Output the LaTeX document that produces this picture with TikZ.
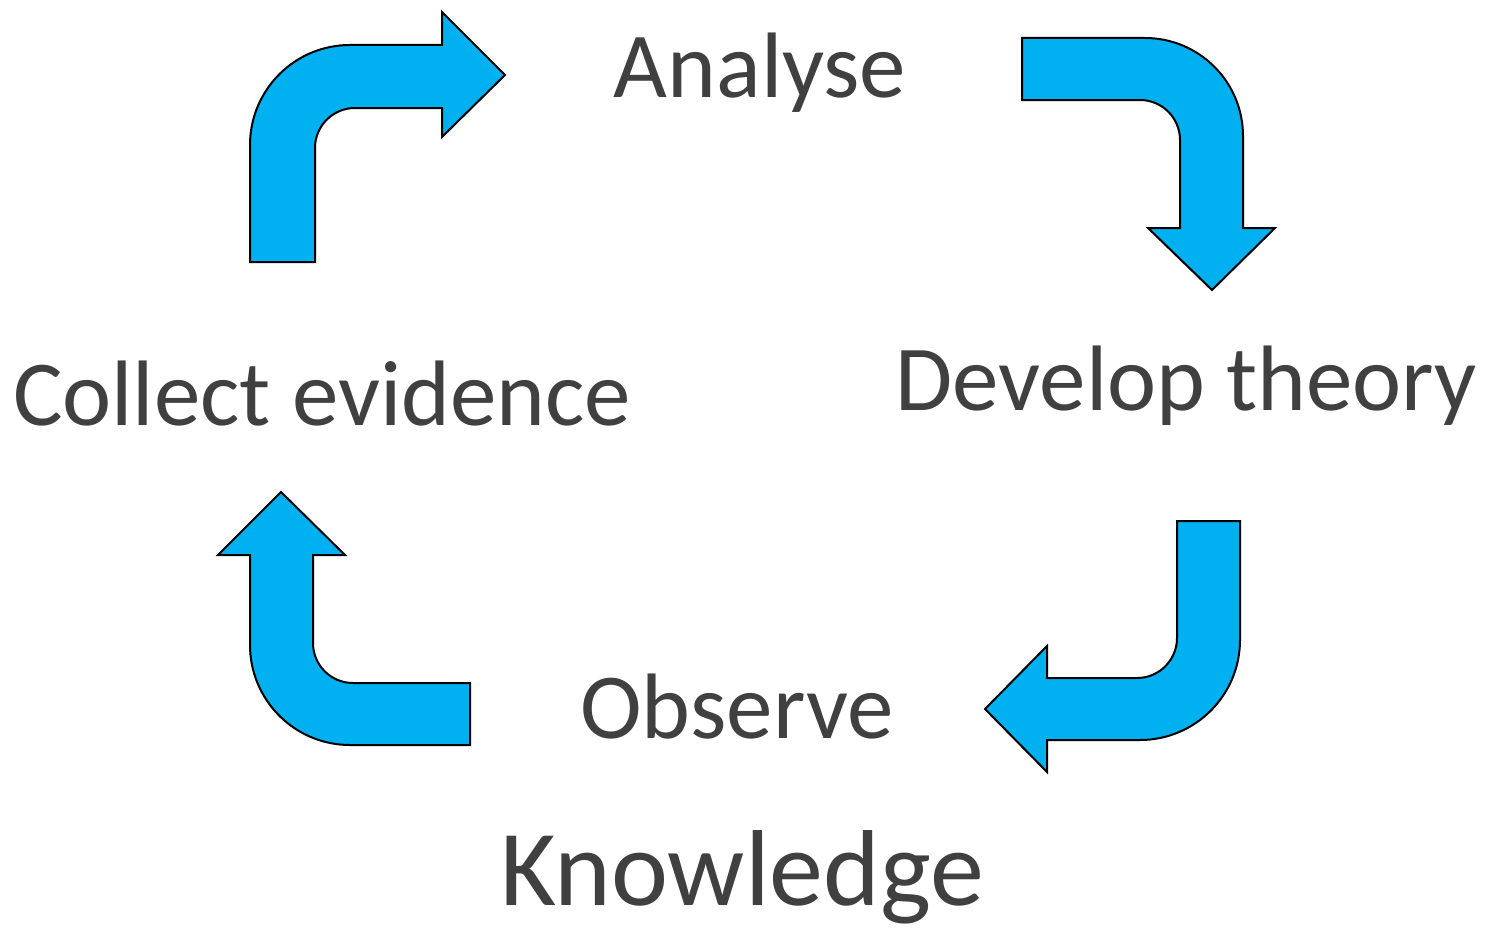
\documentclass[tikz,border=0pt]{standalone}
\usepackage{fontspec}
\setmainfont{Carlito}
\definecolor{arrowblue}{HTML}{00B0F0}
\definecolor{txtgray}{HTML}{404040}
\tikzset{bent/.style={fill=arrowblue,draw=black,line width=2pt,line join=miter},
 lbl/.style={text=txtgray,anchor=base,inner sep=0pt,font=\fontsize{93}{100}\selectfont},
 big/.style={text=txtgray,anchor=base,inner sep=0pt,font=\fontsize{108}{116}\selectfont}}
\begin{document}
\begin{tikzpicture}[x=1pt,y=1pt,yscale=-1]
\useasboundingbox (0,0) rectangle (1500,934);
\draw[bent] (250,262) -- (250,145) arc[start angle=180,end angle=270,radius=100] -- (442,45) -- (442,12) -- (505,75) -- (442,137) -- (442,108) -- (355,108) arc[start angle=270,end angle=180,radius=40] -- (315,262) -- cycle;
\draw[bent] (1022,38) -- (1145,38) arc[start angle=270,end angle=360,radius=98] -- (1243,228) -- (1275,228) -- (1212,290) -- (1148,228) -- (1180,228) -- (1180,140) arc[start angle=0,end angle=-90,radius=40] -- (1022,100) -- cycle;
\draw[bent] (1177,521) -- (1240,521) -- (1240,640) arc[start angle=0,end angle=90,radius=100] -- (1047,740) -- (1047,772) -- (985,709) -- (1047,646) -- (1047,678) -- (1137,678) arc[start angle=90,end angle=0,radius=40] -- cycle;
\draw[bent] (470,683) -- (470,745) -- (350,745) arc[start angle=90,end angle=180,radius=100] -- (250,555) -- (218,555) -- (281,492) -- (345,555) -- (313,555) -- (313,643) arc[start angle=180,end angle=90,radius=40] -- cycle;
\node[lbl] (analyse) at (760,97) {Analyse};
\node[lbl] (collect) at (322,425) {Collect evidence};
\node[lbl] (develop) at (1186,410) {Develop theory};
\node[lbl] (observe) at (737,738) {Observe};
\node[big] (know) at (742,905) {Knowledge};
\end{tikzpicture}
\end{document}
